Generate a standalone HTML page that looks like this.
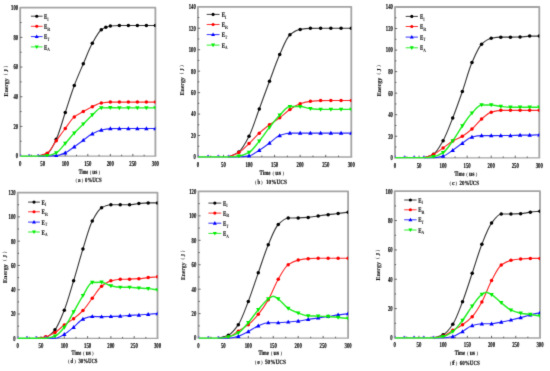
<!DOCTYPE html><html><head><meta charset="utf-8"><title>Energy curves</title><style>html,body{margin:0;padding:0;background:#fff;overflow:hidden;width:550px;height:371px}svg{display:block}</style></head><body><svg width="550" height="371" viewBox="0 0 550 371" font-family="'Liberation Serif','Noto Serif CJK SC',serif" font-weight="bold" fill="#111" text-rendering="geometricPrecision"><defs><filter id="bl" x="0" y="0" width="550" height="371" filterUnits="userSpaceOnUse" color-interpolation-filters="sRGB"><feConvolveMatrix order="3" kernelMatrix="0.0113 0.0838 0.0113 0.0838 0.6193 0.0838 0.0113 0.0838 0.0113" edgeMode="duplicate" preserveAlpha="true"/></filter></defs><g filter="url(#bl)"><rect width="100%" height="100%" fill="#fff"/><g><path d="M20.2 156.1V7.7H155.4V156.1" fill="none" stroke="#a4a4a4" stroke-width="1.8" stroke-linejoin="round"/>
<path d="M19.3 156.1H156.3" fill="none" stroke="#a4a4a4" stroke-width="1.3"/>
<path d="M31.47 156.1v-1.4M42.73 156.1v-2.2M54 156.1v-1.4M65.27 156.1v-2.2M76.53 156.1v-1.4M87.8 156.1v-2.2M99.07 156.1v-1.4M110.33 156.1v-2.2M121.6 156.1v-1.4M132.87 156.1v-2.2M144.13 156.1v-1.4M20.2 141.26h1.4M20.2 126.42h2.2M20.2 111.58h1.4M20.2 96.74h2.2M20.2 81.9h1.4M20.2 67.06h2.2M20.2 52.22h1.4M20.2 37.38h2.2M20.2 22.54h1.4" stroke="#444" stroke-width="0.8" fill="none"/>
<clipPath id="ca"><rect x="20.2" y="7.7" width="135.2" height="149.2"/></clipPath><g clip-path="url(#ca)">
<path d="M38.23 156.1C41.23 155.31 44.24 155.08 47.24 153.73C50.24 152.37 53.25 145.58 56.25 139.33C59.26 133.08 62.26 121.45 65.27 112.47C68.27 103.49 71.28 93.48 74.28 85.46C77.28 77.45 80.29 70.81 83.29 63.8C86.3 56.78 89.3 48.74 92.31 43.32C95.31 37.89 98.32 32.14 101.32 29.81C102.82 28.65 104.32 27.87 105.83 27.29C107.33 26.71 108.83 26.09 110.33 25.95C113.34 25.68 116.34 25.51 119.35 25.51C122.35 25.51 125.36 25.51 128.36 25.51C131.36 25.51 134.37 25.51 137.37 25.51C140.38 25.51 143.38 25.51 146.39 25.51C149.39 25.51 152.4 25.51 155.4 25.51" stroke="#3a3a3a" stroke-width="1.15" fill="none"/>
<circle cx="47.24" cy="153.73" r="1.75" fill="#000000"/>
<circle cx="56.25" cy="139.33" r="1.75" fill="#000000"/>
<circle cx="65.27" cy="112.47" r="1.75" fill="#000000"/>
<circle cx="74.28" cy="85.46" r="1.75" fill="#000000"/>
<circle cx="83.29" cy="63.8" r="1.75" fill="#000000"/>
<circle cx="92.31" cy="43.32" r="1.75" fill="#000000"/>
<circle cx="101.32" cy="29.81" r="1.75" fill="#000000"/>
<circle cx="105.83" cy="27.29" r="1.75" fill="#000000"/>
<circle cx="110.33" cy="25.95" r="1.75" fill="#000000"/>
<circle cx="119.35" cy="25.51" r="1.75" fill="#000000"/>
<circle cx="128.36" cy="25.51" r="1.75" fill="#000000"/>
<circle cx="137.37" cy="25.51" r="1.75" fill="#000000"/>
<circle cx="146.39" cy="25.51" r="1.75" fill="#000000"/>
<circle cx="155.4" cy="25.51" r="1.75" fill="#000000"/>
<path d="M38.23 156.1C41.23 155.11 44.24 154.73 47.24 153.13C50.24 151.54 53.25 144.92 56.25 140.81C59.26 136.71 62.26 132.48 65.27 128.5C68.27 124.52 71.28 119.36 74.28 116.92C77.28 114.49 80.29 113.28 83.29 111.58C86.3 109.88 89.3 108.09 92.31 106.68C95.31 105.28 98.32 103.45 101.32 102.97C104.32 102.49 107.33 102.08 110.33 102.08C113.34 102.08 116.34 102.08 119.35 102.08C122.35 102.08 125.36 102.08 128.36 102.08C131.36 102.08 134.37 102.08 137.37 102.08C140.38 102.08 143.38 102.08 146.39 102.08C149.39 102.08 152.4 102.08 155.4 102.08" stroke="#ff2a2a" stroke-width="1.15" fill="none"/>
<circle cx="47.24" cy="153.13" r="1.75" fill="#ff0000"/>
<circle cx="56.25" cy="140.81" r="1.75" fill="#ff0000"/>
<circle cx="65.27" cy="128.5" r="1.75" fill="#ff0000"/>
<circle cx="74.28" cy="116.92" r="1.75" fill="#ff0000"/>
<circle cx="83.29" cy="111.58" r="1.75" fill="#ff0000"/>
<circle cx="92.31" cy="106.68" r="1.75" fill="#ff0000"/>
<circle cx="101.32" cy="102.97" r="1.75" fill="#ff0000"/>
<circle cx="110.33" cy="102.08" r="1.75" fill="#ff0000"/>
<circle cx="119.35" cy="102.08" r="1.75" fill="#ff0000"/>
<circle cx="128.36" cy="102.08" r="1.75" fill="#ff0000"/>
<circle cx="137.37" cy="102.08" r="1.75" fill="#ff0000"/>
<circle cx="146.39" cy="102.08" r="1.75" fill="#ff0000"/>
<circle cx="155.4" cy="102.08" r="1.75" fill="#ff0000"/>
<path d="M38.23 156.1C41.23 156.1 44.24 156.1 47.24 156.1C50.24 156.1 53.25 155.91 56.25 155.65C59.26 155.4 62.26 154.12 65.27 152.84C68.27 151.55 71.28 148.85 74.28 146.75C77.28 144.65 80.29 142.37 83.29 140.22C86.3 138.07 89.3 135.44 92.31 133.84C95.31 132.24 98.32 130.64 101.32 129.98C104.32 129.32 107.33 128.74 110.33 128.65C113.34 128.56 116.34 128.5 119.35 128.5C122.35 128.5 125.36 128.5 128.36 128.5C131.36 128.5 134.37 128.5 137.37 128.5C140.38 128.5 143.38 128.5 146.39 128.5C149.39 128.5 152.4 128.5 155.4 128.5" stroke="#2a2aff" stroke-width="1.15" fill="none"/>
<ellipse cx="20.2" cy="154.9" rx="1.1" ry="1.0" fill="#7050f0"/>
<ellipse cx="29.21" cy="154.9" rx="1.1" ry="1.0" fill="#7050f0"/>
<ellipse cx="38.23" cy="154.9" rx="1.1" ry="1.0" fill="#7050f0"/>
<ellipse cx="47.24" cy="154.9" rx="1.1" ry="1.0" fill="#7050f0"/>
<path d="M56.25 153.34L58.45 157.3L54.05 157.3Z" fill="#0000ff"/>
<path d="M65.27 150.53L67.47 154.49L63.07 154.49Z" fill="#0000ff"/>
<path d="M74.28 144.44L76.48 148.4L72.08 148.4Z" fill="#0000ff"/>
<path d="M83.29 137.91L85.49 141.87L81.09 141.87Z" fill="#0000ff"/>
<path d="M92.31 131.53L94.51 135.49L90.11 135.49Z" fill="#0000ff"/>
<path d="M101.32 127.67L103.52 131.63L99.12 131.63Z" fill="#0000ff"/>
<path d="M110.33 126.34L112.53 130.3L108.13 130.3Z" fill="#0000ff"/>
<path d="M119.35 126.19L121.55 130.15L117.15 130.15Z" fill="#0000ff"/>
<path d="M128.36 126.19L130.56 130.15L126.16 130.15Z" fill="#0000ff"/>
<path d="M137.37 126.19L139.57 130.15L135.17 130.15Z" fill="#0000ff"/>
<path d="M146.39 126.19L148.59 130.15L144.19 130.15Z" fill="#0000ff"/>
<path d="M155.4 126.19L157.6 130.15L153.2 130.15Z" fill="#0000ff"/>
<path d="M20.2 156.1C23.2 156.1 26.21 156.1 29.21 156.1C32.22 156.1 35.22 156.1 38.23 156.1C41.23 156.1 44.24 155.91 47.24 155.65C50.24 155.4 53.25 154.28 56.25 152.84C59.26 151.39 62.26 146.77 65.27 143.49C68.27 140.21 71.28 136.32 74.28 133.1C77.28 129.87 80.29 127.06 83.29 124.05C86.3 121.03 89.3 117.65 92.31 114.99C95.31 112.34 98.32 107.97 101.32 107.87C104.32 107.77 107.33 107.72 110.33 107.72C113.34 107.72 116.34 107.87 119.35 107.87C122.35 107.87 125.36 107.87 128.36 107.87C131.36 107.87 134.37 107.87 137.37 107.87C140.38 107.87 143.38 107.87 146.39 107.87C149.39 107.87 152.4 107.87 155.4 107.87" stroke="#22ee22" stroke-width="1.45" fill="none"/>
<path d="M47.24 157.96L49.44 154L45.04 154Z" fill="#00ee00"/>
<path d="M56.25 155.15L58.45 151.19L54.05 151.19Z" fill="#00ee00"/>
<path d="M65.27 145.8L67.47 141.84L63.07 141.84Z" fill="#00ee00"/>
<path d="M74.28 135.41L76.48 131.45L72.08 131.45Z" fill="#00ee00"/>
<path d="M83.29 126.36L85.49 122.4L81.09 122.4Z" fill="#00ee00"/>
<path d="M92.31 117.3L94.51 113.34L90.11 113.34Z" fill="#00ee00"/>
<path d="M101.32 110.18L103.52 106.22L99.12 106.22Z" fill="#00ee00"/>
<path d="M110.33 110.03L112.53 106.07L108.13 106.07Z" fill="#00ee00"/>
<path d="M119.35 110.18L121.55 106.22L117.15 106.22Z" fill="#00ee00"/>
<path d="M128.36 110.18L130.56 106.22L126.16 106.22Z" fill="#00ee00"/>
<path d="M137.37 110.18L139.57 106.22L135.17 106.22Z" fill="#00ee00"/>
<path d="M146.39 110.18L148.59 106.22L144.19 106.22Z" fill="#00ee00"/>
<path d="M155.4 110.18L157.6 106.22L153.2 106.22Z" fill="#00ee00"/>
</g>
<path d="M30.9 16.2H42.6" stroke="#3a3a3a" stroke-width="0.95"/>
<circle cx="36.75" cy="16.2" r="1.57" fill="#000000"/>
<text x="43.9" y="18.8" font-size="7.0" text-anchor="start" textLength="3.3" lengthAdjust="spacingAndGlyphs" stroke="#1a1a1a" stroke-width="0.2">E</text>
<text x="47.2" y="20.5" font-size="5.0" text-anchor="start" textLength="1.4" lengthAdjust="spacingAndGlyphs">I</text>
<path d="M30.9 26.3H42.6" stroke="#ff2a2a" stroke-width="0.95"/>
<circle cx="36.75" cy="26.3" r="1.57" fill="#ff0000"/>
<text x="43.9" y="28.9" font-size="7.0" text-anchor="start" textLength="3.3" lengthAdjust="spacingAndGlyphs" stroke="#1a1a1a" stroke-width="0.2">E</text>
<text x="47.2" y="30.6" font-size="5.0" text-anchor="start" textLength="3" lengthAdjust="spacingAndGlyphs">R</text>
<path d="M30.9 36.6H42.6" stroke="#2a2aff" stroke-width="0.95"/>
<path d="M36.75 34.52L38.73 38.09L34.77 38.09Z" fill="#0000ff"/>
<text x="43.9" y="39.2" font-size="7.0" text-anchor="start" textLength="3.3" lengthAdjust="spacingAndGlyphs" stroke="#1a1a1a" stroke-width="0.2">E</text>
<text x="47.2" y="40.9" font-size="5.0" text-anchor="start" textLength="2.3" lengthAdjust="spacingAndGlyphs">T</text>
<path d="M30.9 46.9H42.6" stroke="#22ee22" stroke-width="0.95"/>
<path d="M36.75 48.98L38.73 45.41L34.77 45.41Z" fill="#00ee00"/>
<text x="43.9" y="49.5" font-size="7.0" text-anchor="start" textLength="3.3" lengthAdjust="spacingAndGlyphs" stroke="#1a1a1a" stroke-width="0.2">E</text>
<text x="47.2" y="51.2" font-size="5.0" text-anchor="start" textLength="2.6" lengthAdjust="spacingAndGlyphs">A</text>
<text x="18.1" y="158.45" font-size="7.5" text-anchor="end" textLength="2.35" lengthAdjust="spacingAndGlyphs" stroke="#1a1a1a" stroke-width="0.2">0</text>
<text x="18.1" y="128.77" font-size="7.5" text-anchor="end" textLength="4.7" lengthAdjust="spacingAndGlyphs" stroke="#1a1a1a" stroke-width="0.2">20</text>
<text x="18.1" y="99.09" font-size="7.5" text-anchor="end" textLength="4.7" lengthAdjust="spacingAndGlyphs" stroke="#1a1a1a" stroke-width="0.2">40</text>
<text x="18.1" y="69.41" font-size="7.5" text-anchor="end" textLength="4.7" lengthAdjust="spacingAndGlyphs" stroke="#1a1a1a" stroke-width="0.2">60</text>
<text x="18.1" y="39.73" font-size="7.5" text-anchor="end" textLength="4.7" lengthAdjust="spacingAndGlyphs" stroke="#1a1a1a" stroke-width="0.2">80</text>
<text x="18.1" y="10.05" font-size="7.5" text-anchor="end" textLength="7.05" lengthAdjust="spacingAndGlyphs" stroke="#1a1a1a" stroke-width="0.2">100</text>
<text x="20.2" y="165.8" font-size="7.4" text-anchor="middle" textLength="2.4" lengthAdjust="spacingAndGlyphs" stroke="#1a1a1a" stroke-width="0.2">0</text>
<text x="42.73" y="165.8" font-size="7.4" text-anchor="middle" textLength="4.8" lengthAdjust="spacingAndGlyphs" stroke="#1a1a1a" stroke-width="0.2">50</text>
<text x="65.27" y="165.8" font-size="7.4" text-anchor="middle" textLength="7.2" lengthAdjust="spacingAndGlyphs" stroke="#1a1a1a" stroke-width="0.2">100</text>
<text x="87.8" y="165.8" font-size="7.4" text-anchor="middle" textLength="7.2" lengthAdjust="spacingAndGlyphs" stroke="#1a1a1a" stroke-width="0.2">150</text>
<text x="110.33" y="165.8" font-size="7.4" text-anchor="middle" textLength="7.2" lengthAdjust="spacingAndGlyphs" stroke="#1a1a1a" stroke-width="0.2">200</text>
<text x="132.87" y="165.8" font-size="7.4" text-anchor="middle" textLength="7.2" lengthAdjust="spacingAndGlyphs" stroke="#1a1a1a" stroke-width="0.2">250</text>
<text x="155.4" y="165.8" font-size="7.4" text-anchor="middle" textLength="7.2" lengthAdjust="spacingAndGlyphs" stroke="#1a1a1a" stroke-width="0.2">300</text>
<text y="174.2" font-size="6.8" stroke="#222" stroke-width="0.2"><tspan x="78.8" textLength="9.34" lengthAdjust="spacingAndGlyphs">Time</tspan> <tspan x="89.72" font-weight="normal" stroke="none" font-size="5.6">(</tspan><tspan x="92.32" textLength="4.97" lengthAdjust="spacingAndGlyphs">us</tspan><tspan x="98.14" font-weight="normal" stroke="none" font-size="5.6">)</tspan></text>
<text y="182.3" font-size="6.4" stroke="#222" stroke-width="0.2"><tspan x="75.55" font-weight="normal" stroke="none" font-size="5.6">(</tspan><tspan x="78" textLength="2.6" lengthAdjust="spacingAndGlyphs">a</tspan><tspan x="81.45" font-weight="normal" stroke="none" font-size="5.6">)</tspan> <tspan x="85" textLength="16.7" lengthAdjust="spacingAndGlyphs">0%UCS</tspan></text>
<text transform="translate(8.3 96.5) rotate(-90)" font-size="6" stroke="#222" stroke-width="0.1"><tspan x="0" y="0" textLength="18.18" lengthAdjust="spacingAndGlyphs">Energy</tspan> <tspan x="21.34" y="-0.9" font-size="5" font-weight="normal" stroke="none">(</tspan><tspan x="24.29" y="0" textLength="3" lengthAdjust="spacingAndGlyphs">J</tspan><tspan x="28.92" y="-0.9" font-size="5" font-weight="normal" stroke="none">)</tspan></text></g>
<g><path d="M197.9 157V6.8H351.3V157" fill="none" stroke="#a4a4a4" stroke-width="1.8" stroke-linejoin="round"/>
<path d="M197 157H352.2" fill="none" stroke="#a4a4a4" stroke-width="1.3"/>
<path d="M210.68 157v-1.4M223.47 157v-2.2M236.25 157v-1.4M249.03 157v-2.2M261.82 157v-1.4M274.6 157v-2.2M287.38 157v-1.4M300.17 157v-2.2M312.95 157v-1.4M325.73 157v-2.2M338.52 157v-1.4M197.9 146.27h1.4M197.9 135.54h2.2M197.9 124.81h1.4M197.9 114.09h2.2M197.9 103.36h1.4M197.9 92.63h2.2M197.9 81.9h1.4M197.9 71.17h2.2M197.9 60.44h1.4M197.9 49.71h2.2M197.9 38.99h1.4M197.9 28.26h2.2M197.9 17.53h1.4" stroke="#444" stroke-width="0.8" fill="none"/>
<clipPath id="cb"><rect x="197.9" y="6.8" width="153.4" height="151"/></clipPath><g clip-path="url(#cb)">
<path d="M228.58 157C231.99 155.3 235.4 154.47 238.81 151.9C242.22 149.34 245.62 142.83 249.03 136.19C252.44 129.54 255.85 118.09 259.26 108.94C262.67 99.78 266.08 90.32 269.49 81.26C272.9 72.19 276.3 62.11 279.71 54.54C283.12 46.97 286.53 37.61 289.94 34.8C293.35 31.99 296.76 30.03 300.17 29.44C303.58 28.84 306.98 28.43 310.39 28.36C313.8 28.3 317.21 28.26 320.62 28.26C324.03 28.26 327.44 28.26 330.85 28.26C334.26 28.26 337.66 28.26 341.07 28.26C344.48 28.26 347.89 28.26 351.3 28.26" stroke="#3a3a3a" stroke-width="1.15" fill="none"/>
<circle cx="238.81" cy="151.9" r="1.75" fill="#000000"/>
<circle cx="249.03" cy="136.19" r="1.75" fill="#000000"/>
<circle cx="259.26" cy="108.94" r="1.75" fill="#000000"/>
<circle cx="269.49" cy="81.26" r="1.75" fill="#000000"/>
<circle cx="279.71" cy="54.54" r="1.75" fill="#000000"/>
<circle cx="289.94" cy="34.8" r="1.75" fill="#000000"/>
<circle cx="300.17" cy="29.44" r="1.75" fill="#000000"/>
<circle cx="310.39" cy="28.36" r="1.75" fill="#000000"/>
<circle cx="320.62" cy="28.26" r="1.75" fill="#000000"/>
<circle cx="330.85" cy="28.26" r="1.75" fill="#000000"/>
<circle cx="341.07" cy="28.26" r="1.75" fill="#000000"/>
<circle cx="351.3" cy="28.26" r="1.75" fill="#000000"/>
<path d="M228.58 157C231.99 155.5 235.4 154.49 238.81 152.49C242.22 150.5 245.62 146.79 249.03 143.59C252.44 140.39 255.85 136.27 259.26 133.18C262.67 130.09 266.08 127.37 269.49 124.81C272.9 122.26 276.3 120.26 279.71 117.73C283.12 115.21 286.53 111.84 289.94 109.58C293.35 107.32 296.76 104.94 300.17 103.79C303.58 102.63 306.98 101.7 310.39 101.32C313.8 100.93 317.21 100.63 320.62 100.57C324.03 100.51 327.44 100.46 330.85 100.46C334.26 100.46 337.66 100.46 341.07 100.46C344.48 100.46 347.89 100.46 351.3 100.46" stroke="#ff2a2a" stroke-width="1.15" fill="none"/>
<circle cx="238.81" cy="152.49" r="1.75" fill="#ff0000"/>
<circle cx="249.03" cy="143.59" r="1.75" fill="#ff0000"/>
<circle cx="259.26" cy="133.18" r="1.75" fill="#ff0000"/>
<circle cx="269.49" cy="124.81" r="1.75" fill="#ff0000"/>
<circle cx="279.71" cy="117.73" r="1.75" fill="#ff0000"/>
<circle cx="289.94" cy="109.58" r="1.75" fill="#ff0000"/>
<circle cx="300.17" cy="103.79" r="1.75" fill="#ff0000"/>
<circle cx="310.39" cy="101.32" r="1.75" fill="#ff0000"/>
<circle cx="320.62" cy="100.57" r="1.75" fill="#ff0000"/>
<circle cx="330.85" cy="100.46" r="1.75" fill="#ff0000"/>
<circle cx="341.07" cy="100.46" r="1.75" fill="#ff0000"/>
<circle cx="351.3" cy="100.46" r="1.75" fill="#ff0000"/>
<path d="M228.58 157C231.99 157 235.4 157 238.81 157C242.22 157 245.62 156.53 249.03 155.93C252.44 155.33 255.85 152.36 259.26 150.24C262.67 148.12 266.08 145.5 269.49 143.05C272.9 140.6 276.3 136.74 279.71 135.54C283.12 134.35 286.53 133.25 289.94 133.18C293.35 133.11 296.76 133.08 300.17 133.08C303.58 133.08 306.98 133.08 310.39 133.08C313.8 133.08 317.21 133.08 320.62 133.08C324.03 133.08 327.44 133.08 330.85 133.08C334.26 133.08 337.66 133.08 341.07 133.08C344.48 133.08 347.89 133.08 351.3 133.08" stroke="#2a2aff" stroke-width="1.15" fill="none"/>
<ellipse cx="197.9" cy="155.8" rx="1.1" ry="1.0" fill="#7050f0"/>
<ellipse cx="208.13" cy="155.8" rx="1.1" ry="1.0" fill="#7050f0"/>
<ellipse cx="218.35" cy="155.8" rx="1.1" ry="1.0" fill="#7050f0"/>
<ellipse cx="228.58" cy="155.8" rx="1.1" ry="1.0" fill="#7050f0"/>
<ellipse cx="238.81" cy="155.8" rx="1.1" ry="1.0" fill="#7050f0"/>
<path d="M249.03 153.62L251.23 157.58L246.83 157.58Z" fill="#0000ff"/>
<path d="M259.26 147.93L261.46 151.89L257.06 151.89Z" fill="#0000ff"/>
<path d="M269.49 140.74L271.69 144.7L267.29 144.7Z" fill="#0000ff"/>
<path d="M279.71 133.23L281.91 137.19L277.51 137.19Z" fill="#0000ff"/>
<path d="M289.94 130.87L292.14 134.83L287.74 134.83Z" fill="#0000ff"/>
<path d="M300.17 130.77L302.37 134.73L297.97 134.73Z" fill="#0000ff"/>
<path d="M310.39 130.77L312.59 134.73L308.19 134.73Z" fill="#0000ff"/>
<path d="M320.62 130.77L322.82 134.73L318.42 134.73Z" fill="#0000ff"/>
<path d="M330.85 130.77L333.05 134.73L328.65 134.73Z" fill="#0000ff"/>
<path d="M341.07 130.77L343.27 134.73L338.87 134.73Z" fill="#0000ff"/>
<path d="M351.3 130.77L353.5 134.73L349.1 134.73Z" fill="#0000ff"/>
<path d="M197.9 157C201.31 157 204.72 157 208.13 157C211.54 157 214.94 157 218.35 157C221.76 157 225.17 157 228.58 157C231.99 157 235.4 156.67 238.81 156.25C242.22 155.83 245.62 154.38 249.03 152.49C252.44 150.61 255.85 145.27 259.26 141.12C262.67 136.97 266.08 131.68 269.49 127.39C272.9 123.1 276.3 118.64 279.71 115.27C283.12 111.89 286.53 106.58 289.94 106.58C293.35 106.58 296.76 106.58 300.17 106.58C303.58 106.58 306.98 108.25 310.39 108.61C313.8 108.98 317.21 109.37 320.62 109.37C324.03 109.37 327.44 109.37 330.85 109.37C334.26 109.37 337.66 109.37 341.07 109.37C344.48 109.37 347.89 109.37 351.3 109.37" stroke="#22ee22" stroke-width="1.45" fill="none"/>
<path d="M238.81 158.56L241.01 154.6L236.61 154.6Z" fill="#00ee00"/>
<path d="M249.03 154.8L251.23 150.84L246.83 150.84Z" fill="#00ee00"/>
<path d="M259.26 143.43L261.46 139.47L257.06 139.47Z" fill="#00ee00"/>
<path d="M269.49 129.7L271.69 125.74L267.29 125.74Z" fill="#00ee00"/>
<path d="M279.71 117.58L281.91 113.62L277.51 113.62Z" fill="#00ee00"/>
<path d="M289.94 108.89L292.14 104.93L287.74 104.93Z" fill="#00ee00"/>
<path d="M300.17 108.89L302.37 104.93L297.97 104.93Z" fill="#00ee00"/>
<path d="M310.39 110.92L312.59 106.96L308.19 106.96Z" fill="#00ee00"/>
<path d="M320.62 111.68L322.82 107.72L318.42 107.72Z" fill="#00ee00"/>
<path d="M330.85 111.68L333.05 107.72L328.65 107.72Z" fill="#00ee00"/>
<path d="M341.07 111.68L343.27 107.72L338.87 107.72Z" fill="#00ee00"/>
<path d="M351.3 111.68L353.5 107.72L349.1 107.72Z" fill="#00ee00"/>
</g>
<path d="M206.7 14.4H219.5" stroke="#3a3a3a" stroke-width="0.95"/>
<circle cx="213.1" cy="14.4" r="1.57" fill="#000000"/>
<text x="221.8" y="17" font-size="7.0" text-anchor="start" textLength="3.3" lengthAdjust="spacingAndGlyphs" stroke="#1a1a1a" stroke-width="0.2">E</text>
<text x="225.1" y="18.7" font-size="5.0" text-anchor="start" textLength="1.4" lengthAdjust="spacingAndGlyphs">I</text>
<path d="M206.7 24.5H219.5" stroke="#ff2a2a" stroke-width="0.95"/>
<circle cx="213.1" cy="24.5" r="1.57" fill="#ff0000"/>
<text x="221.8" y="27.1" font-size="7.0" text-anchor="start" textLength="3.3" lengthAdjust="spacingAndGlyphs" stroke="#1a1a1a" stroke-width="0.2">E</text>
<text x="225.1" y="28.8" font-size="5.0" text-anchor="start" textLength="3" lengthAdjust="spacingAndGlyphs">R</text>
<path d="M206.7 34.6H219.5" stroke="#2a2aff" stroke-width="0.95"/>
<path d="M213.1 32.52L215.08 36.09L211.12 36.09Z" fill="#0000ff"/>
<text x="221.8" y="37.2" font-size="7.0" text-anchor="start" textLength="3.3" lengthAdjust="spacingAndGlyphs" stroke="#1a1a1a" stroke-width="0.2">E</text>
<text x="225.1" y="38.9" font-size="5.0" text-anchor="start" textLength="2.3" lengthAdjust="spacingAndGlyphs">T</text>
<path d="M206.7 45.1H219.5" stroke="#22ee22" stroke-width="0.95"/>
<path d="M213.1 47.18L215.08 43.62L211.12 43.62Z" fill="#00ee00"/>
<text x="221.8" y="47.7" font-size="7.0" text-anchor="start" textLength="3.3" lengthAdjust="spacingAndGlyphs" stroke="#1a1a1a" stroke-width="0.2">E</text>
<text x="225.1" y="49.4" font-size="5.0" text-anchor="start" textLength="2.6" lengthAdjust="spacingAndGlyphs">A</text>
<text x="195.8" y="159.35" font-size="7.5" text-anchor="end" textLength="2.35" lengthAdjust="spacingAndGlyphs" stroke="#1a1a1a" stroke-width="0.2">0</text>
<text x="195.8" y="137.89" font-size="7.5" text-anchor="end" textLength="4.7" lengthAdjust="spacingAndGlyphs" stroke="#1a1a1a" stroke-width="0.2">20</text>
<text x="195.8" y="116.44" font-size="7.5" text-anchor="end" textLength="4.7" lengthAdjust="spacingAndGlyphs" stroke="#1a1a1a" stroke-width="0.2">40</text>
<text x="195.8" y="94.98" font-size="7.5" text-anchor="end" textLength="4.7" lengthAdjust="spacingAndGlyphs" stroke="#1a1a1a" stroke-width="0.2">60</text>
<text x="195.8" y="73.52" font-size="7.5" text-anchor="end" textLength="4.7" lengthAdjust="spacingAndGlyphs" stroke="#1a1a1a" stroke-width="0.2">80</text>
<text x="195.8" y="52.06" font-size="7.5" text-anchor="end" textLength="7.05" lengthAdjust="spacingAndGlyphs" stroke="#1a1a1a" stroke-width="0.2">100</text>
<text x="195.8" y="30.61" font-size="7.5" text-anchor="end" textLength="7.05" lengthAdjust="spacingAndGlyphs" stroke="#1a1a1a" stroke-width="0.2">120</text>
<text x="195.8" y="9.15" font-size="7.5" text-anchor="end" textLength="7.05" lengthAdjust="spacingAndGlyphs" stroke="#1a1a1a" stroke-width="0.2">140</text>
<text x="197.9" y="166.5" font-size="7.4" text-anchor="middle" textLength="2.4" lengthAdjust="spacingAndGlyphs" stroke="#1a1a1a" stroke-width="0.2">0</text>
<text x="223.47" y="166.5" font-size="7.4" text-anchor="middle" textLength="4.8" lengthAdjust="spacingAndGlyphs" stroke="#1a1a1a" stroke-width="0.2">50</text>
<text x="249.03" y="166.5" font-size="7.4" text-anchor="middle" textLength="7.2" lengthAdjust="spacingAndGlyphs" stroke="#1a1a1a" stroke-width="0.2">100</text>
<text x="274.6" y="166.5" font-size="7.4" text-anchor="middle" textLength="7.2" lengthAdjust="spacingAndGlyphs" stroke="#1a1a1a" stroke-width="0.2">150</text>
<text x="300.17" y="166.5" font-size="7.4" text-anchor="middle" textLength="7.2" lengthAdjust="spacingAndGlyphs" stroke="#1a1a1a" stroke-width="0.2">200</text>
<text x="325.73" y="166.5" font-size="7.4" text-anchor="middle" textLength="7.2" lengthAdjust="spacingAndGlyphs" stroke="#1a1a1a" stroke-width="0.2">250</text>
<text x="351.3" y="166.5" font-size="7.4" text-anchor="middle" textLength="7.2" lengthAdjust="spacingAndGlyphs" stroke="#1a1a1a" stroke-width="0.2">300</text>
<text y="174.9" font-size="6.8" stroke="#222" stroke-width="0.2"><tspan x="259.6" textLength="10.82" lengthAdjust="spacingAndGlyphs">Time</tspan> <tspan x="272.41" font-weight="normal" stroke="none" font-size="5.6">(</tspan><tspan x="275.26" textLength="5.76" lengthAdjust="spacingAndGlyphs">us</tspan><tspan x="282.17" font-weight="normal" stroke="none" font-size="5.6">)</tspan></text>
<text y="183.7" font-size="6.4" stroke="#222" stroke-width="0.2"><tspan x="254.95" font-weight="normal" stroke="none" font-size="5.6">(</tspan><tspan x="257.4" textLength="2.6" lengthAdjust="spacingAndGlyphs">b</tspan><tspan x="260.85" font-weight="normal" stroke="none" font-size="5.6">)</tspan> <tspan x="266" textLength="20.9" lengthAdjust="spacingAndGlyphs">10%UCS</tspan></text>
<text transform="translate(183.8 95.3) rotate(-90)" font-size="6" stroke="#222" stroke-width="0.1"><tspan x="0" y="0" textLength="18.02" lengthAdjust="spacingAndGlyphs">Energy</tspan> <tspan x="21.13" y="-0.9" font-size="5" font-weight="normal" stroke="none">(</tspan><tspan x="24.06" y="0" textLength="2.98" lengthAdjust="spacingAndGlyphs">J</tspan><tspan x="28.64" y="-0.9" font-size="5" font-weight="normal" stroke="none">)</tspan></text></g>
<g><path d="M395 157.8V7H539.3V157.8" fill="none" stroke="#a4a4a4" stroke-width="1.8" stroke-linejoin="round"/>
<path d="M394.1 157.8H540.2" fill="none" stroke="#a4a4a4" stroke-width="1.3"/>
<path d="M407.02 157.8v-1.4M419.05 157.8v-2.2M431.07 157.8v-1.4M443.1 157.8v-2.2M455.12 157.8v-1.4M467.15 157.8v-2.2M479.17 157.8v-1.4M491.2 157.8v-2.2M503.22 157.8v-1.4M515.25 157.8v-2.2M527.27 157.8v-1.4M395 147.03h1.4M395 136.26h2.2M395 125.49h1.4M395 114.71h2.2M395 103.94h1.4M395 93.17h2.2M395 82.4h1.4M395 71.63h2.2M395 60.86h1.4M395 50.09h2.2M395 39.31h1.4M395 28.54h2.2M395 17.77h1.4" stroke="#444" stroke-width="0.8" fill="none"/>
<clipPath id="cc"><rect x="395" y="7" width="144.3" height="151.6"/></clipPath><g clip-path="url(#cc)">
<path d="M423.86 157.8C427.07 156.65 430.27 156.19 433.48 154.35C436.69 152.52 439.89 146.37 443.1 140.67C446.31 134.98 449.51 126.1 452.72 117.95C455.93 109.79 459.13 100.66 462.34 91.45C465.55 82.24 468.75 70.05 471.96 62.58C475.17 55.11 478.37 47.29 481.58 44.27C484.79 41.24 487.99 38.85 491.2 38.24C494.41 37.63 497.61 37.16 500.82 37.16C504.03 37.16 507.23 37.16 510.44 37.16C513.65 37.16 516.85 37.12 520.06 37.05C523.27 36.99 526.47 36.08 529.68 36.08C532.89 36.08 536.09 36.08 539.3 36.08" stroke="#3a3a3a" stroke-width="1.15" fill="none"/>
<circle cx="433.48" cy="154.35" r="1.75" fill="#000000"/>
<circle cx="443.1" cy="140.67" r="1.75" fill="#000000"/>
<circle cx="452.72" cy="117.95" r="1.75" fill="#000000"/>
<circle cx="462.34" cy="91.45" r="1.75" fill="#000000"/>
<circle cx="471.96" cy="62.58" r="1.75" fill="#000000"/>
<circle cx="481.58" cy="44.27" r="1.75" fill="#000000"/>
<circle cx="491.2" cy="38.24" r="1.75" fill="#000000"/>
<circle cx="500.82" cy="37.16" r="1.75" fill="#000000"/>
<circle cx="510.44" cy="37.16" r="1.75" fill="#000000"/>
<circle cx="520.06" cy="37.05" r="1.75" fill="#000000"/>
<circle cx="529.68" cy="36.08" r="1.75" fill="#000000"/>
<circle cx="539.3" cy="36.08" r="1.75" fill="#000000"/>
<path d="M423.86 157.8C427.07 156.69 430.27 155.94 433.48 154.46C436.69 152.98 439.89 150.12 443.1 147.89C446.31 145.66 449.51 142.99 452.72 141.1C455.93 139.22 459.13 138.19 462.34 136.26C465.55 134.32 468.75 131.84 471.96 129.04C475.17 126.24 478.37 121.75 481.58 119.02C484.79 116.3 487.99 113.09 491.2 112.13C494.41 111.16 497.61 110.3 500.82 110.3C504.03 110.3 507.23 110.3 510.44 110.3C513.65 110.3 516.85 110.3 520.06 110.3C523.27 110.3 526.47 110.3 529.68 110.3C532.89 110.3 536.09 110.3 539.3 110.3" stroke="#ff2a2a" stroke-width="1.15" fill="none"/>
<circle cx="433.48" cy="154.46" r="1.75" fill="#ff0000"/>
<circle cx="443.1" cy="147.89" r="1.75" fill="#ff0000"/>
<circle cx="452.72" cy="141.1" r="1.75" fill="#ff0000"/>
<circle cx="462.34" cy="136.26" r="1.75" fill="#ff0000"/>
<circle cx="471.96" cy="129.04" r="1.75" fill="#ff0000"/>
<circle cx="481.58" cy="119.02" r="1.75" fill="#ff0000"/>
<circle cx="491.2" cy="112.13" r="1.75" fill="#ff0000"/>
<circle cx="500.82" cy="110.3" r="1.75" fill="#ff0000"/>
<circle cx="510.44" cy="110.3" r="1.75" fill="#ff0000"/>
<circle cx="520.06" cy="110.3" r="1.75" fill="#ff0000"/>
<circle cx="529.68" cy="110.3" r="1.75" fill="#ff0000"/>
<circle cx="539.3" cy="110.3" r="1.75" fill="#ff0000"/>
<path d="M423.86 157.8C427.07 157.8 430.27 157.8 433.48 157.8C436.69 157.8 439.89 157.03 443.1 156.18C446.31 155.34 449.51 152.4 452.72 150.26C455.93 148.12 459.13 145.46 462.34 143.26C465.55 141.06 468.75 137.77 471.96 137.01C475.17 136.25 478.37 135.61 481.58 135.61C484.79 135.61 487.99 135.61 491.2 135.61C494.41 135.61 497.61 135.5 500.82 135.5C504.03 135.5 507.23 135.5 510.44 135.5C513.65 135.5 516.85 135.23 520.06 135.18C523.27 135.13 526.47 135.13 529.68 135.07C532.89 135.02 536.09 134.86 539.3 134.75" stroke="#2a2aff" stroke-width="1.15" fill="none"/>
<ellipse cx="395" cy="156.6" rx="1.1" ry="1.0" fill="#7050f0"/>
<ellipse cx="404.62" cy="156.6" rx="1.1" ry="1.0" fill="#7050f0"/>
<ellipse cx="414.24" cy="156.6" rx="1.1" ry="1.0" fill="#7050f0"/>
<ellipse cx="423.86" cy="156.6" rx="1.1" ry="1.0" fill="#7050f0"/>
<ellipse cx="433.48" cy="156.6" rx="1.1" ry="1.0" fill="#7050f0"/>
<path d="M443.1 153.87L445.3 157.83L440.9 157.83Z" fill="#0000ff"/>
<path d="M452.72 147.95L454.92 151.91L450.52 151.91Z" fill="#0000ff"/>
<path d="M462.34 140.95L464.54 144.91L460.14 144.91Z" fill="#0000ff"/>
<path d="M471.96 134.7L474.16 138.66L469.76 138.66Z" fill="#0000ff"/>
<path d="M481.58 133.3L483.78 137.26L479.38 137.26Z" fill="#0000ff"/>
<path d="M491.2 133.3L493.4 137.26L489 137.26Z" fill="#0000ff"/>
<path d="M500.82 133.19L503.02 137.15L498.62 137.15Z" fill="#0000ff"/>
<path d="M510.44 133.19L512.64 137.15L508.24 137.15Z" fill="#0000ff"/>
<path d="M520.06 132.87L522.26 136.83L517.86 136.83Z" fill="#0000ff"/>
<path d="M529.68 132.76L531.88 136.72L527.48 136.72Z" fill="#0000ff"/>
<path d="M539.3 132.44L541.5 136.4L537.1 136.4Z" fill="#0000ff"/>
<path d="M395 157.8C398.21 157.8 401.41 157.8 404.62 157.8C407.83 157.8 411.03 157.8 414.24 157.8C417.45 157.8 420.65 157.8 423.86 157.8C427.07 157.8 430.27 157.29 433.48 156.72C436.69 156.15 439.89 154.65 443.1 152.63C446.31 150.61 449.51 145.26 452.72 140.89C455.93 136.52 459.13 130.63 462.34 126.02C465.55 121.42 468.75 116.41 471.96 113.1C475.17 109.78 478.37 105.02 481.58 105.02C484.79 105.02 487.99 105.02 491.2 105.02C494.41 105.02 497.61 106.09 500.82 106.42C504.03 106.75 507.23 107.17 510.44 107.17C513.65 107.17 516.85 107.17 520.06 107.17C523.27 107.17 526.47 107.17 529.68 107.17C532.89 107.17 536.09 107.17 539.3 107.17" stroke="#22ee22" stroke-width="1.45" fill="none"/>
<path d="M433.48 159.03L435.68 155.07L431.28 155.07Z" fill="#00ee00"/>
<path d="M443.1 154.94L445.3 150.98L440.9 150.98Z" fill="#00ee00"/>
<path d="M452.72 143.2L454.92 139.24L450.52 139.24Z" fill="#00ee00"/>
<path d="M462.34 128.33L464.54 124.37L460.14 124.37Z" fill="#00ee00"/>
<path d="M471.96 115.41L474.16 111.45L469.76 111.45Z" fill="#00ee00"/>
<path d="M481.58 107.33L483.78 103.37L479.38 103.37Z" fill="#00ee00"/>
<path d="M491.2 107.33L493.4 103.37L489 103.37Z" fill="#00ee00"/>
<path d="M500.82 108.73L503.02 104.77L498.62 104.77Z" fill="#00ee00"/>
<path d="M510.44 109.48L512.64 105.52L508.24 105.52Z" fill="#00ee00"/>
<path d="M520.06 109.48L522.26 105.52L517.86 105.52Z" fill="#00ee00"/>
<path d="M529.68 109.48L531.88 105.52L527.48 105.52Z" fill="#00ee00"/>
<path d="M539.3 109.48L541.5 105.52L537.1 105.52Z" fill="#00ee00"/>
</g>
<path d="M405.7 16.4H417.9" stroke="#3a3a3a" stroke-width="0.95"/>
<circle cx="411.8" cy="16.4" r="1.57" fill="#000000"/>
<text x="420" y="19" font-size="7.0" text-anchor="start" textLength="3.3" lengthAdjust="spacingAndGlyphs" stroke="#1a1a1a" stroke-width="0.2">E</text>
<text x="423.3" y="20.7" font-size="5.0" text-anchor="start" textLength="1.4" lengthAdjust="spacingAndGlyphs">I</text>
<path d="M405.7 26.5H417.9" stroke="#ff2a2a" stroke-width="0.95"/>
<circle cx="411.8" cy="26.5" r="1.57" fill="#ff0000"/>
<text x="420" y="29.1" font-size="7.0" text-anchor="start" textLength="3.3" lengthAdjust="spacingAndGlyphs" stroke="#1a1a1a" stroke-width="0.2">E</text>
<text x="423.3" y="30.8" font-size="5.0" text-anchor="start" textLength="3" lengthAdjust="spacingAndGlyphs">R</text>
<path d="M405.7 37.1H417.9" stroke="#2a2aff" stroke-width="0.95"/>
<path d="M411.8 35.02L413.78 38.59L409.82 38.59Z" fill="#0000ff"/>
<text x="420" y="39.7" font-size="7.0" text-anchor="start" textLength="3.3" lengthAdjust="spacingAndGlyphs" stroke="#1a1a1a" stroke-width="0.2">E</text>
<text x="423.3" y="41.4" font-size="5.0" text-anchor="start" textLength="2.3" lengthAdjust="spacingAndGlyphs">T</text>
<path d="M405.7 47.8H417.9" stroke="#22ee22" stroke-width="0.95"/>
<path d="M411.8 49.88L413.78 46.31L409.82 46.31Z" fill="#00ee00"/>
<text x="420" y="50.4" font-size="7.0" text-anchor="start" textLength="3.3" lengthAdjust="spacingAndGlyphs" stroke="#1a1a1a" stroke-width="0.2">E</text>
<text x="423.3" y="52.1" font-size="5.0" text-anchor="start" textLength="2.6" lengthAdjust="spacingAndGlyphs">A</text>
<text x="392.9" y="160.15" font-size="7.5" text-anchor="end" textLength="2.35" lengthAdjust="spacingAndGlyphs" stroke="#1a1a1a" stroke-width="0.2">0</text>
<text x="392.9" y="138.61" font-size="7.5" text-anchor="end" textLength="4.7" lengthAdjust="spacingAndGlyphs" stroke="#1a1a1a" stroke-width="0.2">20</text>
<text x="392.9" y="117.06" font-size="7.5" text-anchor="end" textLength="4.7" lengthAdjust="spacingAndGlyphs" stroke="#1a1a1a" stroke-width="0.2">40</text>
<text x="392.9" y="95.52" font-size="7.5" text-anchor="end" textLength="4.7" lengthAdjust="spacingAndGlyphs" stroke="#1a1a1a" stroke-width="0.2">60</text>
<text x="392.9" y="73.98" font-size="7.5" text-anchor="end" textLength="4.7" lengthAdjust="spacingAndGlyphs" stroke="#1a1a1a" stroke-width="0.2">80</text>
<text x="392.9" y="52.44" font-size="7.5" text-anchor="end" textLength="7.05" lengthAdjust="spacingAndGlyphs" stroke="#1a1a1a" stroke-width="0.2">100</text>
<text x="392.9" y="30.89" font-size="7.5" text-anchor="end" textLength="7.05" lengthAdjust="spacingAndGlyphs" stroke="#1a1a1a" stroke-width="0.2">120</text>
<text x="392.9" y="9.35" font-size="7.5" text-anchor="end" textLength="7.05" lengthAdjust="spacingAndGlyphs" stroke="#1a1a1a" stroke-width="0.2">140</text>
<text x="395" y="167.7" font-size="7.4" text-anchor="middle" textLength="2.4" lengthAdjust="spacingAndGlyphs" stroke="#1a1a1a" stroke-width="0.2">0</text>
<text x="419.05" y="167.7" font-size="7.4" text-anchor="middle" textLength="4.8" lengthAdjust="spacingAndGlyphs" stroke="#1a1a1a" stroke-width="0.2">50</text>
<text x="443.1" y="167.7" font-size="7.4" text-anchor="middle" textLength="7.2" lengthAdjust="spacingAndGlyphs" stroke="#1a1a1a" stroke-width="0.2">100</text>
<text x="467.15" y="167.7" font-size="7.4" text-anchor="middle" textLength="7.2" lengthAdjust="spacingAndGlyphs" stroke="#1a1a1a" stroke-width="0.2">150</text>
<text x="491.2" y="167.7" font-size="7.4" text-anchor="middle" textLength="7.2" lengthAdjust="spacingAndGlyphs" stroke="#1a1a1a" stroke-width="0.2">200</text>
<text x="515.25" y="167.7" font-size="7.4" text-anchor="middle" textLength="7.2" lengthAdjust="spacingAndGlyphs" stroke="#1a1a1a" stroke-width="0.2">250</text>
<text x="539.3" y="167.7" font-size="7.4" text-anchor="middle" textLength="7.2" lengthAdjust="spacingAndGlyphs" stroke="#1a1a1a" stroke-width="0.2">300</text>
<text y="175.9" font-size="6.8" stroke="#222" stroke-width="0.2"><tspan x="454.4" textLength="10.1" lengthAdjust="spacingAndGlyphs">Time</tspan> <tspan x="466.29" font-weight="normal" stroke="none" font-size="5.6">(</tspan><tspan x="469.02" textLength="5.38" lengthAdjust="spacingAndGlyphs">us</tspan><tspan x="475.4" font-weight="normal" stroke="none" font-size="5.6">)</tspan></text>
<text y="185.3" font-size="6.4" stroke="#222" stroke-width="0.2"><tspan x="449.45" font-weight="normal" stroke="none" font-size="5.6">(</tspan><tspan x="451.9" textLength="2.6" lengthAdjust="spacingAndGlyphs">c</tspan><tspan x="455.35" font-weight="normal" stroke="none" font-size="5.6">)</tspan> <tspan x="459.5" textLength="19.6" lengthAdjust="spacingAndGlyphs">20%UCS</tspan></text>
<text transform="translate(380.9 96.3) rotate(-90)" font-size="6" stroke="#222" stroke-width="0.1"><tspan x="0" y="0" textLength="18.58" lengthAdjust="spacingAndGlyphs">Energy</tspan> <tspan x="21.82" y="-0.9" font-size="5" font-weight="normal" stroke="none">(</tspan><tspan x="24.82" y="0" textLength="3.07" lengthAdjust="spacingAndGlyphs">J</tspan><tspan x="29.56" y="-0.9" font-size="5" font-weight="normal" stroke="none">)</tspan></text></g>
<g><path d="M17.7 338.3V192.6H157.5V338.3" fill="none" stroke="#a4a4a4" stroke-width="1.8" stroke-linejoin="round"/>
<path d="M16.8 338.3H158.4" fill="none" stroke="#a4a4a4" stroke-width="1.3"/>
<path d="M29.35 338.3v-1.4M41 338.3v-2.2M52.65 338.3v-1.4M64.3 338.3v-2.2M75.95 338.3v-1.4M87.6 338.3v-2.2M99.25 338.3v-1.4M110.9 338.3v-2.2M122.55 338.3v-1.4M134.2 338.3v-2.2M145.85 338.3v-1.4M17.7 326.16h1.4M17.7 314.02h2.2M17.7 301.88h1.4M17.7 289.73h2.2M17.7 277.59h1.4M17.7 265.45h2.2M17.7 253.31h1.4M17.7 241.17h2.2M17.7 229.02h1.4M17.7 216.88h2.2M17.7 204.74h1.4" stroke="#444" stroke-width="0.8" fill="none"/>
<clipPath id="cd"><rect x="17.7" y="192.6" width="139.8" height="146.5"/></clipPath><g clip-path="url(#cd)">
<path d="M36.34 338.3C39.45 337.98 42.55 337.9 45.66 337.33C48.77 336.76 51.87 333.43 54.98 329.8C58.09 326.17 61.19 317.99 64.3 310.13C67.41 302.28 70.51 290.93 73.62 280.75C76.73 270.57 79.83 258.85 82.94 248.94C86.05 239.02 89.15 227.03 92.26 221.01C95.37 214.99 98.47 209.25 101.58 207.66C104.69 206.06 107.79 204.74 110.9 204.74C114.01 204.74 117.11 204.74 120.22 204.74C123.33 204.74 126.43 204.74 129.54 204.74C132.65 204.74 135.75 203.8 138.86 203.53C141.97 203.26 145.07 202.92 148.18 202.92C151.29 202.92 154.39 202.92 157.5 202.92" stroke="#3a3a3a" stroke-width="1.15" fill="none"/>
<circle cx="45.66" cy="337.33" r="1.75" fill="#000000"/>
<circle cx="54.98" cy="329.8" r="1.75" fill="#000000"/>
<circle cx="64.3" cy="310.13" r="1.75" fill="#000000"/>
<circle cx="73.62" cy="280.75" r="1.75" fill="#000000"/>
<circle cx="82.94" cy="248.94" r="1.75" fill="#000000"/>
<circle cx="92.26" cy="221.01" r="1.75" fill="#000000"/>
<circle cx="101.58" cy="207.66" r="1.75" fill="#000000"/>
<circle cx="110.9" cy="204.74" r="1.75" fill="#000000"/>
<circle cx="120.22" cy="204.74" r="1.75" fill="#000000"/>
<circle cx="129.54" cy="204.74" r="1.75" fill="#000000"/>
<circle cx="138.86" cy="203.53" r="1.75" fill="#000000"/>
<circle cx="148.18" cy="202.92" r="1.75" fill="#000000"/>
<circle cx="157.5" cy="202.92" r="1.75" fill="#000000"/>
<path d="M36.34 338.3C39.45 337.81 42.55 337.57 45.66 336.84C48.77 336.12 51.87 334.41 54.98 332.59C58.09 330.77 61.19 327.25 64.3 324.94C67.41 322.64 70.51 321 73.62 318.63C76.73 316.26 79.83 313.76 82.94 310.5C86.05 307.24 89.15 302.28 92.26 298.23C95.37 294.19 98.47 288.68 101.58 286.21C104.69 283.75 107.79 281.68 110.9 280.87C114.01 280.06 117.11 279.37 120.22 279.29C123.33 279.22 126.43 279.23 129.54 279.17C132.65 279.11 135.75 278.91 138.86 278.68C141.97 278.46 145.07 277.91 148.18 277.59C151.29 277.27 154.39 277.03 157.5 276.74" stroke="#ff2a2a" stroke-width="1.15" fill="none"/>
<circle cx="45.66" cy="336.84" r="1.75" fill="#ff0000"/>
<circle cx="54.98" cy="332.59" r="1.75" fill="#ff0000"/>
<circle cx="64.3" cy="324.94" r="1.75" fill="#ff0000"/>
<circle cx="73.62" cy="318.63" r="1.75" fill="#ff0000"/>
<circle cx="82.94" cy="310.5" r="1.75" fill="#ff0000"/>
<circle cx="92.26" cy="298.23" r="1.75" fill="#ff0000"/>
<circle cx="101.58" cy="286.21" r="1.75" fill="#ff0000"/>
<circle cx="110.9" cy="280.87" r="1.75" fill="#ff0000"/>
<circle cx="120.22" cy="279.29" r="1.75" fill="#ff0000"/>
<circle cx="129.54" cy="279.17" r="1.75" fill="#ff0000"/>
<circle cx="138.86" cy="278.68" r="1.75" fill="#ff0000"/>
<circle cx="148.18" cy="277.59" r="1.75" fill="#ff0000"/>
<circle cx="157.5" cy="276.74" r="1.75" fill="#ff0000"/>
<path d="M45.66 338.3C48.77 338.3 51.87 338.3 54.98 338.3C58.09 338.3 61.19 336 64.3 334.29C67.41 332.59 70.51 329.77 73.62 327.25C76.73 324.73 79.83 320.46 82.94 319.12C86.05 317.78 89.15 316.44 92.26 316.44C95.37 316.44 98.47 316.69 101.58 316.69C104.69 316.69 107.79 316.54 110.9 316.44C114.01 316.35 117.11 316.24 120.22 316.08C123.33 315.92 126.43 315.51 129.54 315.35C132.65 315.19 135.75 315.15 138.86 314.99C141.97 314.83 145.07 314.5 148.18 314.26C151.29 314.02 154.39 313.77 157.5 313.53" stroke="#2a2aff" stroke-width="1.15" fill="none"/>
<ellipse cx="17.7" cy="337.1" rx="1.1" ry="1.0" fill="#7050f0"/>
<ellipse cx="27.02" cy="337.1" rx="1.1" ry="1.0" fill="#7050f0"/>
<ellipse cx="36.34" cy="337.1" rx="1.1" ry="1.0" fill="#7050f0"/>
<ellipse cx="45.66" cy="337.1" rx="1.1" ry="1.0" fill="#7050f0"/>
<ellipse cx="54.98" cy="337.1" rx="1.1" ry="1.0" fill="#7050f0"/>
<path d="M64.3 331.98L66.5 335.94L62.1 335.94Z" fill="#0000ff"/>
<path d="M73.62 324.94L75.82 328.9L71.42 328.9Z" fill="#0000ff"/>
<path d="M82.94 316.81L85.14 320.77L80.74 320.77Z" fill="#0000ff"/>
<path d="M92.26 314.13L94.46 318.09L90.06 318.09Z" fill="#0000ff"/>
<path d="M101.58 314.38L103.78 318.34L99.38 318.34Z" fill="#0000ff"/>
<path d="M110.9 314.13L113.1 318.09L108.7 318.09Z" fill="#0000ff"/>
<path d="M120.22 313.77L122.42 317.73L118.02 317.73Z" fill="#0000ff"/>
<path d="M129.54 313.04L131.74 317L127.34 317Z" fill="#0000ff"/>
<path d="M138.86 312.68L141.06 316.64L136.66 316.64Z" fill="#0000ff"/>
<path d="M148.18 311.95L150.38 315.91L145.98 315.91Z" fill="#0000ff"/>
<path d="M157.5 311.22L159.7 315.18L155.3 315.18Z" fill="#0000ff"/>
<path d="M17.7 338.3C20.81 338.3 23.91 338.3 27.02 338.3C30.13 338.3 33.23 338.3 36.34 338.3C39.45 338.3 42.55 338.3 45.66 338.3C48.77 338.3 51.87 337.28 54.98 336.11C58.09 334.95 61.19 331.09 64.3 327.37C67.41 323.65 70.51 317.25 73.62 311.95C76.73 306.66 79.83 300.42 82.94 295.56C86.05 290.7 89.15 282.61 92.26 282.45C95.37 282.29 98.47 282.21 101.58 282.21C104.69 282.21 107.79 285.15 110.9 285.85C114.01 286.54 117.11 287.31 120.22 287.31C123.33 287.31 126.43 287.31 129.54 287.31C132.65 287.31 135.75 287.81 138.86 288.03C141.97 288.25 145.07 288.36 148.18 288.64C151.29 288.92 154.39 289.53 157.5 289.98" stroke="#22ee22" stroke-width="1.45" fill="none"/>
<path d="M54.98 338.42L57.18 334.46L52.78 334.46Z" fill="#00ee00"/>
<path d="M64.3 329.68L66.5 325.72L62.1 325.72Z" fill="#00ee00"/>
<path d="M73.62 314.26L75.82 310.3L71.42 310.3Z" fill="#00ee00"/>
<path d="M82.94 297.87L85.14 293.91L80.74 293.91Z" fill="#00ee00"/>
<path d="M92.26 284.76L94.46 280.8L90.06 280.8Z" fill="#00ee00"/>
<path d="M101.58 284.52L103.78 280.56L99.38 280.56Z" fill="#00ee00"/>
<path d="M110.9 288.16L113.1 284.2L108.7 284.2Z" fill="#00ee00"/>
<path d="M120.22 289.62L122.42 285.66L118.02 285.66Z" fill="#00ee00"/>
<path d="M129.54 289.62L131.74 285.66L127.34 285.66Z" fill="#00ee00"/>
<path d="M138.86 290.34L141.06 286.38L136.66 286.38Z" fill="#00ee00"/>
<path d="M148.18 290.95L150.38 286.99L145.98 286.99Z" fill="#00ee00"/>
<path d="M157.5 292.29L159.7 288.33L155.3 288.33Z" fill="#00ee00"/>
</g>
<path d="M28.1 202.1H39.9" stroke="#3a3a3a" stroke-width="0.95"/>
<circle cx="34" cy="202.1" r="1.57" fill="#000000"/>
<text x="41.6" y="204.7" font-size="7.0" text-anchor="start" textLength="3.3" lengthAdjust="spacingAndGlyphs" stroke="#1a1a1a" stroke-width="0.2">E</text>
<text x="44.9" y="206.4" font-size="5.0" text-anchor="start" textLength="1.4" lengthAdjust="spacingAndGlyphs">I</text>
<path d="M28.1 211.8H39.9" stroke="#ff2a2a" stroke-width="0.95"/>
<circle cx="34" cy="211.8" r="1.57" fill="#ff0000"/>
<text x="41.6" y="214.4" font-size="7.0" text-anchor="start" textLength="3.3" lengthAdjust="spacingAndGlyphs" stroke="#1a1a1a" stroke-width="0.2">E</text>
<text x="44.9" y="216.1" font-size="5.0" text-anchor="start" textLength="3" lengthAdjust="spacingAndGlyphs">R</text>
<path d="M28.1 222.1H39.9" stroke="#2a2aff" stroke-width="0.95"/>
<path d="M34 220.02L35.98 223.59L32.02 223.59Z" fill="#0000ff"/>
<text x="41.6" y="224.7" font-size="7.0" text-anchor="start" textLength="3.3" lengthAdjust="spacingAndGlyphs" stroke="#1a1a1a" stroke-width="0.2">E</text>
<text x="44.9" y="226.4" font-size="5.0" text-anchor="start" textLength="2.3" lengthAdjust="spacingAndGlyphs">T</text>
<path d="M28.1 232H39.9" stroke="#22ee22" stroke-width="0.95"/>
<path d="M34 234.08L35.98 230.51L32.02 230.51Z" fill="#00ee00"/>
<text x="41.6" y="234.6" font-size="7.0" text-anchor="start" textLength="3.3" lengthAdjust="spacingAndGlyphs" stroke="#1a1a1a" stroke-width="0.2">E</text>
<text x="44.9" y="236.3" font-size="5.0" text-anchor="start" textLength="2.6" lengthAdjust="spacingAndGlyphs">A</text>
<text x="15.6" y="340.65" font-size="7.5" text-anchor="end" textLength="2.35" lengthAdjust="spacingAndGlyphs" stroke="#1a1a1a" stroke-width="0.2">0</text>
<text x="15.6" y="316.37" font-size="7.5" text-anchor="end" textLength="4.7" lengthAdjust="spacingAndGlyphs" stroke="#1a1a1a" stroke-width="0.2">20</text>
<text x="15.6" y="292.08" font-size="7.5" text-anchor="end" textLength="4.7" lengthAdjust="spacingAndGlyphs" stroke="#1a1a1a" stroke-width="0.2">40</text>
<text x="15.6" y="267.8" font-size="7.5" text-anchor="end" textLength="4.7" lengthAdjust="spacingAndGlyphs" stroke="#1a1a1a" stroke-width="0.2">60</text>
<text x="15.6" y="243.52" font-size="7.5" text-anchor="end" textLength="4.7" lengthAdjust="spacingAndGlyphs" stroke="#1a1a1a" stroke-width="0.2">80</text>
<text x="15.6" y="219.23" font-size="7.5" text-anchor="end" textLength="7.05" lengthAdjust="spacingAndGlyphs" stroke="#1a1a1a" stroke-width="0.2">100</text>
<text x="15.6" y="194.95" font-size="7.5" text-anchor="end" textLength="7.05" lengthAdjust="spacingAndGlyphs" stroke="#1a1a1a" stroke-width="0.2">120</text>
<text x="17.7" y="348.2" font-size="7.4" text-anchor="middle" textLength="2.4" lengthAdjust="spacingAndGlyphs" stroke="#1a1a1a" stroke-width="0.2">0</text>
<text x="41" y="348.2" font-size="7.4" text-anchor="middle" textLength="4.8" lengthAdjust="spacingAndGlyphs" stroke="#1a1a1a" stroke-width="0.2">50</text>
<text x="64.3" y="348.2" font-size="7.4" text-anchor="middle" textLength="7.2" lengthAdjust="spacingAndGlyphs" stroke="#1a1a1a" stroke-width="0.2">100</text>
<text x="87.6" y="348.2" font-size="7.4" text-anchor="middle" textLength="7.2" lengthAdjust="spacingAndGlyphs" stroke="#1a1a1a" stroke-width="0.2">150</text>
<text x="110.9" y="348.2" font-size="7.4" text-anchor="middle" textLength="7.2" lengthAdjust="spacingAndGlyphs" stroke="#1a1a1a" stroke-width="0.2">200</text>
<text x="134.2" y="348.2" font-size="7.4" text-anchor="middle" textLength="7.2" lengthAdjust="spacingAndGlyphs" stroke="#1a1a1a" stroke-width="0.2">250</text>
<text x="157.5" y="348.2" font-size="7.4" text-anchor="middle" textLength="7.2" lengthAdjust="spacingAndGlyphs" stroke="#1a1a1a" stroke-width="0.2">300</text>
<text y="355.2" font-size="6.8" stroke="#222" stroke-width="0.2"><tspan x="71.6" textLength="9.74" lengthAdjust="spacingAndGlyphs">Time</tspan> <tspan x="83.04" font-weight="normal" stroke="none" font-size="5.6">(</tspan><tspan x="85.7" textLength="5.19" lengthAdjust="spacingAndGlyphs">us</tspan><tspan x="91.82" font-weight="normal" stroke="none" font-size="5.6">)</tspan></text>
<text y="363.3" font-size="6.4" stroke="#222" stroke-width="0.2"><tspan x="68.05" font-weight="normal" stroke="none" font-size="5.6">(</tspan><tspan x="70.5" textLength="2.6" lengthAdjust="spacingAndGlyphs">d</tspan><tspan x="73.95" font-weight="normal" stroke="none" font-size="5.6">)</tspan> <tspan x="78.4" textLength="19.1" lengthAdjust="spacingAndGlyphs">30%UCS</tspan></text>
<text transform="translate(6.8 282.9) rotate(-90)" font-size="6" stroke="#222" stroke-width="0.1"><tspan x="0" y="0" textLength="18.58" lengthAdjust="spacingAndGlyphs">Energy</tspan> <tspan x="21.82" y="-0.9" font-size="5" font-weight="normal" stroke="none">(</tspan><tspan x="24.82" y="0" textLength="3.07" lengthAdjust="spacingAndGlyphs">J</tspan><tspan x="29.56" y="-0.9" font-size="5" font-weight="normal" stroke="none">)</tspan></text></g>
<g><path d="M198.4 338.1V191.4H348.1V338.1" fill="none" stroke="#a4a4a4" stroke-width="1.8" stroke-linejoin="round"/>
<path d="M197.5 338.1H349" fill="none" stroke="#a4a4a4" stroke-width="1.3"/>
<path d="M210.88 338.1v-1.4M223.35 338.1v-2.2M235.83 338.1v-1.4M248.3 338.1v-2.2M260.78 338.1v-1.4M273.25 338.1v-2.2M285.73 338.1v-1.4M298.2 338.1v-2.2M310.68 338.1v-1.4M323.15 338.1v-2.2M335.62 338.1v-1.4M198.4 325.88h1.4M198.4 313.65h2.2M198.4 301.43h1.4M198.4 289.2h2.2M198.4 276.98h1.4M198.4 264.75h2.2M198.4 252.53h1.4M198.4 240.3h2.2M198.4 228.07h1.4M198.4 215.85h2.2M198.4 203.62h1.4" stroke="#444" stroke-width="0.8" fill="none"/>
<clipPath id="ce"><rect x="198.4" y="191.4" width="149.7" height="147.5"/></clipPath><g clip-path="url(#ce)">
<path d="M218.36 338.1C221.69 337.16 225.01 336.77 228.34 335.29C231.67 333.81 234.99 329.52 238.32 324.65C241.65 319.79 244.97 309.97 248.3 301.43C251.63 292.88 254.95 282.27 258.28 272.82C261.61 263.37 264.93 252.53 268.26 244.7C271.59 236.87 274.91 227.8 278.24 224.53C281.57 221.26 284.89 218.13 288.22 218.05C291.55 217.97 294.87 217.99 298.2 217.93C301.53 217.86 304.85 217.68 308.18 217.44C311.51 217.19 314.83 216.44 318.16 215.97C321.49 215.5 324.81 215.03 328.14 214.63C331.47 214.22 334.79 213.93 338.12 213.53C341.45 213.12 344.77 212.63 348.1 212.18" stroke="#3a3a3a" stroke-width="1.15" fill="none"/>
<circle cx="228.34" cy="335.29" r="1.75" fill="#000000"/>
<circle cx="238.32" cy="324.65" r="1.75" fill="#000000"/>
<circle cx="248.3" cy="301.43" r="1.75" fill="#000000"/>
<circle cx="258.28" cy="272.82" r="1.75" fill="#000000"/>
<circle cx="268.26" cy="244.7" r="1.75" fill="#000000"/>
<circle cx="278.24" cy="224.53" r="1.75" fill="#000000"/>
<circle cx="288.22" cy="218.05" r="1.75" fill="#000000"/>
<circle cx="298.2" cy="217.93" r="1.75" fill="#000000"/>
<circle cx="308.18" cy="217.44" r="1.75" fill="#000000"/>
<circle cx="318.16" cy="215.97" r="1.75" fill="#000000"/>
<circle cx="328.14" cy="214.63" r="1.75" fill="#000000"/>
<circle cx="338.12" cy="213.53" r="1.75" fill="#000000"/>
<circle cx="348.1" cy="212.18" r="1.75" fill="#000000"/>
<path d="M218.36 338.1C221.69 337.69 225.01 337.55 228.34 336.88C231.67 336.21 234.99 333.16 238.32 331.13C241.65 329.1 244.97 327.31 248.3 324.65C251.63 321.99 254.95 318.29 258.28 314.26C261.61 310.23 264.93 305.5 268.26 299.84C271.59 294.17 274.91 284.87 278.24 279.18C281.57 273.48 284.89 266.93 288.22 264.63C291.55 262.33 294.87 260.84 298.2 260.1C301.53 259.37 304.85 258.83 308.18 258.64C311.51 258.44 314.83 258.27 318.16 258.27C321.49 258.27 324.81 258.27 328.14 258.27C331.47 258.27 334.79 258.27 338.12 258.27C341.45 258.27 344.77 258.27 348.1 258.27" stroke="#ff2a2a" stroke-width="1.15" fill="none"/>
<circle cx="228.34" cy="336.88" r="1.75" fill="#ff0000"/>
<circle cx="238.32" cy="331.13" r="1.75" fill="#ff0000"/>
<circle cx="248.3" cy="324.65" r="1.75" fill="#ff0000"/>
<circle cx="258.28" cy="314.26" r="1.75" fill="#ff0000"/>
<circle cx="268.26" cy="299.84" r="1.75" fill="#ff0000"/>
<circle cx="278.24" cy="279.18" r="1.75" fill="#ff0000"/>
<circle cx="288.22" cy="264.63" r="1.75" fill="#ff0000"/>
<circle cx="298.2" cy="260.1" r="1.75" fill="#ff0000"/>
<circle cx="308.18" cy="258.64" r="1.75" fill="#ff0000"/>
<circle cx="318.16" cy="258.27" r="1.75" fill="#ff0000"/>
<circle cx="328.14" cy="258.27" r="1.75" fill="#ff0000"/>
<circle cx="338.12" cy="258.27" r="1.75" fill="#ff0000"/>
<circle cx="348.1" cy="258.27" r="1.75" fill="#ff0000"/>
<path d="M218.36 338.1C221.69 338.1 225.01 338.1 228.34 338.1C231.67 338.1 234.99 337.14 238.32 336.27C241.65 335.39 244.97 333.33 248.3 331.62C251.63 329.91 254.95 327.24 258.28 325.88C261.61 324.51 264.93 322.7 268.26 322.7C271.59 322.7 274.91 322.7 278.24 322.7C281.57 322.7 284.89 322.24 288.22 321.96C291.55 321.68 294.87 321.39 298.2 320.99C301.53 320.58 304.85 319.93 308.18 319.4C311.51 318.87 314.83 318.29 318.16 317.81C321.49 317.32 324.81 316.95 328.14 316.46C331.47 315.98 334.79 315.33 338.12 314.87C341.45 314.41 344.77 314.06 348.1 313.65" stroke="#2a2aff" stroke-width="1.15" fill="none"/>
<ellipse cx="198.4" cy="336.9" rx="1.1" ry="1.0" fill="#7050f0"/>
<ellipse cx="208.38" cy="336.9" rx="1.1" ry="1.0" fill="#7050f0"/>
<ellipse cx="218.36" cy="336.9" rx="1.1" ry="1.0" fill="#7050f0"/>
<ellipse cx="228.34" cy="336.9" rx="1.1" ry="1.0" fill="#7050f0"/>
<path d="M238.32 333.96L240.52 337.92L236.12 337.92Z" fill="#0000ff"/>
<path d="M248.3 329.31L250.5 333.27L246.1 333.27Z" fill="#0000ff"/>
<path d="M258.28 323.56L260.48 327.52L256.08 327.52Z" fill="#0000ff"/>
<path d="M268.26 320.39L270.46 324.35L266.06 324.35Z" fill="#0000ff"/>
<path d="M278.24 320.39L280.44 324.35L276.04 324.35Z" fill="#0000ff"/>
<path d="M288.22 319.65L290.42 323.61L286.02 323.61Z" fill="#0000ff"/>
<path d="M298.2 318.68L300.4 322.63L296 322.63Z" fill="#0000ff"/>
<path d="M308.18 317.09L310.38 321.05L305.98 321.05Z" fill="#0000ff"/>
<path d="M318.16 315.5L320.36 319.46L315.96 319.46Z" fill="#0000ff"/>
<path d="M328.14 314.15L330.34 318.11L325.94 318.11Z" fill="#0000ff"/>
<path d="M338.12 312.56L340.32 316.52L335.92 316.52Z" fill="#0000ff"/>
<path d="M348.1 311.34L350.3 315.3L345.9 315.3Z" fill="#0000ff"/>
<path d="M198.4 338.1C201.73 338.1 205.05 338.1 208.38 338.1C211.71 338.1 215.03 338.1 218.36 338.1C221.69 338.1 225.01 337.5 228.34 336.88C231.67 336.26 234.99 334.85 238.32 332.97C241.65 331.08 244.97 326.52 248.3 322.7C251.63 318.88 254.95 313.66 258.28 309.74C261.61 305.82 264.93 301.36 268.26 298.98C269.92 297.79 271.59 296.17 273.25 296.17C274.91 296.17 276.58 297.84 278.24 298.98C281.57 301.26 284.89 306.32 288.22 308.39C291.55 310.47 294.87 311.84 298.2 313.04C301.53 314.24 304.85 315.89 308.18 315.97C311.51 316.05 314.83 316.03 318.16 316.1C321.49 316.16 324.81 316.28 328.14 316.46C331.47 316.64 334.79 317.11 338.12 317.44C341.45 317.77 344.77 318.09 348.1 318.42" stroke="#22ee22" stroke-width="1.45" fill="none"/>
<path d="M228.34 339.19L230.54 335.23L226.14 335.23Z" fill="#00ee00"/>
<path d="M238.32 335.28L240.52 331.32L236.12 331.32Z" fill="#00ee00"/>
<path d="M248.3 325.01L250.5 321.05L246.1 321.05Z" fill="#00ee00"/>
<path d="M258.28 312.05L260.48 308.09L256.08 308.09Z" fill="#00ee00"/>
<path d="M268.26 301.29L270.46 297.33L266.06 297.33Z" fill="#00ee00"/>
<path d="M278.24 301.29L280.44 297.33L276.04 297.33Z" fill="#00ee00"/>
<path d="M288.22 310.7L290.42 306.74L286.02 306.74Z" fill="#00ee00"/>
<path d="M298.2 315.35L300.4 311.39L296 311.39Z" fill="#00ee00"/>
<path d="M308.18 318.28L310.38 314.32L305.98 314.32Z" fill="#00ee00"/>
<path d="M318.16 318.41L320.36 314.45L315.96 314.45Z" fill="#00ee00"/>
<path d="M328.14 318.77L330.34 314.81L325.94 314.81Z" fill="#00ee00"/>
<path d="M338.12 319.75L340.32 315.79L335.92 315.79Z" fill="#00ee00"/>
<path d="M348.1 320.73L350.3 316.77L345.9 316.77Z" fill="#00ee00"/>
</g>
<path d="M208.4 203.1H221.3" stroke="#3a3a3a" stroke-width="0.95"/>
<circle cx="214.85" cy="203.1" r="1.57" fill="#000000"/>
<text x="223" y="205.7" font-size="7.0" text-anchor="start" textLength="3.3" lengthAdjust="spacingAndGlyphs" stroke="#1a1a1a" stroke-width="0.2">E</text>
<text x="226.3" y="207.4" font-size="5.0" text-anchor="start" textLength="1.4" lengthAdjust="spacingAndGlyphs">I</text>
<path d="M208.4 213.1H221.3" stroke="#ff2a2a" stroke-width="0.95"/>
<circle cx="214.85" cy="213.1" r="1.57" fill="#ff0000"/>
<text x="223" y="215.7" font-size="7.0" text-anchor="start" textLength="3.3" lengthAdjust="spacingAndGlyphs" stroke="#1a1a1a" stroke-width="0.2">E</text>
<text x="226.3" y="217.4" font-size="5.0" text-anchor="start" textLength="3" lengthAdjust="spacingAndGlyphs">R</text>
<path d="M208.4 223.2H221.3" stroke="#2a2aff" stroke-width="0.95"/>
<path d="M214.85 221.12L216.83 224.69L212.87 224.69Z" fill="#0000ff"/>
<text x="223" y="225.8" font-size="7.0" text-anchor="start" textLength="3.3" lengthAdjust="spacingAndGlyphs" stroke="#1a1a1a" stroke-width="0.2">E</text>
<text x="226.3" y="227.5" font-size="5.0" text-anchor="start" textLength="2.3" lengthAdjust="spacingAndGlyphs">T</text>
<path d="M208.4 233.4H221.3" stroke="#22ee22" stroke-width="0.95"/>
<path d="M214.85 235.48L216.83 231.91L212.87 231.91Z" fill="#00ee00"/>
<text x="223" y="236" font-size="7.0" text-anchor="start" textLength="3.3" lengthAdjust="spacingAndGlyphs" stroke="#1a1a1a" stroke-width="0.2">E</text>
<text x="226.3" y="237.7" font-size="5.0" text-anchor="start" textLength="2.6" lengthAdjust="spacingAndGlyphs">A</text>
<text x="196.3" y="340.45" font-size="7.5" text-anchor="end" textLength="2.35" lengthAdjust="spacingAndGlyphs" stroke="#1a1a1a" stroke-width="0.2">0</text>
<text x="196.3" y="316" font-size="7.5" text-anchor="end" textLength="4.7" lengthAdjust="spacingAndGlyphs" stroke="#1a1a1a" stroke-width="0.2">20</text>
<text x="196.3" y="291.55" font-size="7.5" text-anchor="end" textLength="4.7" lengthAdjust="spacingAndGlyphs" stroke="#1a1a1a" stroke-width="0.2">40</text>
<text x="196.3" y="267.1" font-size="7.5" text-anchor="end" textLength="4.7" lengthAdjust="spacingAndGlyphs" stroke="#1a1a1a" stroke-width="0.2">60</text>
<text x="196.3" y="242.65" font-size="7.5" text-anchor="end" textLength="4.7" lengthAdjust="spacingAndGlyphs" stroke="#1a1a1a" stroke-width="0.2">80</text>
<text x="196.3" y="218.2" font-size="7.5" text-anchor="end" textLength="7.05" lengthAdjust="spacingAndGlyphs" stroke="#1a1a1a" stroke-width="0.2">100</text>
<text x="196.3" y="193.75" font-size="7.5" text-anchor="end" textLength="7.05" lengthAdjust="spacingAndGlyphs" stroke="#1a1a1a" stroke-width="0.2">120</text>
<text x="198.4" y="348" font-size="7.4" text-anchor="middle" textLength="2.4" lengthAdjust="spacingAndGlyphs" stroke="#1a1a1a" stroke-width="0.2">0</text>
<text x="223.35" y="348" font-size="7.4" text-anchor="middle" textLength="4.8" lengthAdjust="spacingAndGlyphs" stroke="#1a1a1a" stroke-width="0.2">50</text>
<text x="248.3" y="348" font-size="7.4" text-anchor="middle" textLength="7.2" lengthAdjust="spacingAndGlyphs" stroke="#1a1a1a" stroke-width="0.2">100</text>
<text x="273.25" y="348" font-size="7.4" text-anchor="middle" textLength="7.2" lengthAdjust="spacingAndGlyphs" stroke="#1a1a1a" stroke-width="0.2">150</text>
<text x="298.2" y="348" font-size="7.4" text-anchor="middle" textLength="7.2" lengthAdjust="spacingAndGlyphs" stroke="#1a1a1a" stroke-width="0.2">200</text>
<text x="323.15" y="348" font-size="7.4" text-anchor="middle" textLength="7.2" lengthAdjust="spacingAndGlyphs" stroke="#1a1a1a" stroke-width="0.2">250</text>
<text x="348.1" y="348" font-size="7.4" text-anchor="middle" textLength="7.2" lengthAdjust="spacingAndGlyphs" stroke="#1a1a1a" stroke-width="0.2">300</text>
<text y="355.4" font-size="6.8" stroke="#222" stroke-width="0.2"><tspan x="258.4" textLength="10.46" lengthAdjust="spacingAndGlyphs">Time</tspan> <tspan x="270.75" font-weight="normal" stroke="none" font-size="5.6">(</tspan><tspan x="273.54" textLength="5.57" lengthAdjust="spacingAndGlyphs">us</tspan><tspan x="280.19" font-weight="normal" stroke="none" font-size="5.6">)</tspan></text>
<text y="363.8" font-size="6.4" stroke="#222" stroke-width="0.2"><tspan x="254.85" font-weight="normal" stroke="none" font-size="5.6">(</tspan><tspan x="257.3" textLength="2.6" lengthAdjust="spacingAndGlyphs">e</tspan><tspan x="260.75" font-weight="normal" stroke="none" font-size="5.6">)</tspan> <tspan x="264.9" textLength="21.1" lengthAdjust="spacingAndGlyphs">50%UCS</tspan></text>
<text transform="translate(185 280.1) rotate(-90)" font-size="6" stroke="#222" stroke-width="0.1"><tspan x="0" y="0" textLength="17.57" lengthAdjust="spacingAndGlyphs">Energy</tspan> <tspan x="20.58" y="-0.9" font-size="5" font-weight="normal" stroke="none">(</tspan><tspan x="23.46" y="0" textLength="2.9" lengthAdjust="spacingAndGlyphs">J</tspan><tspan x="27.9" y="-0.9" font-size="5" font-weight="normal" stroke="none">)</tspan></text></g>
<g><path d="M394.7 338V191.2H540V338" fill="none" stroke="#a4a4a4" stroke-width="1.8" stroke-linejoin="round"/>
<path d="M393.8 338H540.9" fill="none" stroke="#a4a4a4" stroke-width="1.3"/>
<path d="M406.81 338v-1.4M418.92 338v-2.2M431.02 338v-1.4M443.13 338v-2.2M455.24 338v-1.4M467.35 338v-2.2M479.46 338v-1.4M491.57 338v-2.2M503.68 338v-1.4M515.78 338v-2.2M527.89 338v-1.4M394.7 323.32h1.4M394.7 308.64h2.2M394.7 293.96h1.4M394.7 279.28h2.2M394.7 264.6h1.4M394.7 249.92h2.2M394.7 235.24h1.4M394.7 220.56h2.2M394.7 205.88h1.4" stroke="#444" stroke-width="0.8" fill="none"/>
<clipPath id="cf"><rect x="394.7" y="191.2" width="145.3" height="147.6"/></clipPath><g clip-path="url(#cf)">
<path d="M433.45 338C436.68 336.92 439.9 336.42 443.13 334.77C446.36 333.12 449.59 328.99 452.82 324.2C456.05 319.41 459.28 310.11 462.51 301.74C465.74 293.37 468.96 282.85 472.19 273.26C475.42 263.67 478.65 252.35 481.88 244.19C485.11 236.04 488.34 227.3 491.57 223.06C494.8 218.81 498.02 213.95 501.25 213.95C504.48 213.95 507.71 213.95 510.94 213.95C514.17 213.95 517.4 213.82 520.63 213.66C523.86 213.5 527.08 212.6 530.31 212.19C533.54 211.79 536.77 211.51 540 211.16" stroke="#3a3a3a" stroke-width="1.15" fill="none"/>
<circle cx="443.13" cy="334.77" r="1.75" fill="#000000"/>
<circle cx="452.82" cy="324.2" r="1.75" fill="#000000"/>
<circle cx="462.51" cy="301.74" r="1.75" fill="#000000"/>
<circle cx="472.19" cy="273.26" r="1.75" fill="#000000"/>
<circle cx="481.88" cy="244.19" r="1.75" fill="#000000"/>
<circle cx="491.57" cy="223.06" r="1.75" fill="#000000"/>
<circle cx="501.25" cy="213.95" r="1.75" fill="#000000"/>
<circle cx="510.94" cy="213.95" r="1.75" fill="#000000"/>
<circle cx="520.63" cy="213.66" r="1.75" fill="#000000"/>
<circle cx="530.31" cy="212.19" r="1.75" fill="#000000"/>
<circle cx="540" cy="211.16" r="1.75" fill="#000000"/>
<path d="M433.45 338C436.68 337.31 439.9 336.95 443.13 335.94C446.36 334.94 449.59 332.23 452.82 330.37C456.05 328.51 459.28 326.99 462.51 324.79C465.74 322.59 468.96 320.19 472.19 316.71C475.42 313.24 478.65 307.84 481.88 302.03C485.11 296.23 488.34 286.61 491.57 280.6C494.8 274.59 498.02 267.45 501.25 265.04C504.48 262.63 507.71 261.03 510.94 260.34C514.17 259.66 517.4 259.29 520.63 259.02C523.86 258.75 527.08 258.43 530.31 258.43C533.54 258.43 536.77 258.43 540 258.43" stroke="#ff2a2a" stroke-width="1.15" fill="none"/>
<circle cx="443.13" cy="335.94" r="1.75" fill="#ff0000"/>
<circle cx="452.82" cy="330.37" r="1.75" fill="#ff0000"/>
<circle cx="462.51" cy="324.79" r="1.75" fill="#ff0000"/>
<circle cx="472.19" cy="316.71" r="1.75" fill="#ff0000"/>
<circle cx="481.88" cy="302.03" r="1.75" fill="#ff0000"/>
<circle cx="491.57" cy="280.6" r="1.75" fill="#ff0000"/>
<circle cx="501.25" cy="265.04" r="1.75" fill="#ff0000"/>
<circle cx="510.94" cy="260.34" r="1.75" fill="#ff0000"/>
<circle cx="520.63" cy="259.02" r="1.75" fill="#ff0000"/>
<circle cx="530.31" cy="258.43" r="1.75" fill="#ff0000"/>
<circle cx="540" cy="258.43" r="1.75" fill="#ff0000"/>
<path d="M433.45 338C436.68 338 439.9 338 443.13 338C446.36 338 449.59 337.29 452.82 336.53C456.05 335.78 459.28 333.36 462.51 331.54C465.74 329.72 468.96 326.43 472.19 325.52C475.42 324.61 478.65 323.76 481.88 323.76C485.11 323.76 488.34 323.76 491.57 323.76C494.8 323.76 498.02 322.63 501.25 322C504.48 321.37 507.71 320.67 510.94 319.94C514.17 319.21 517.4 318.42 520.63 317.59C523.86 316.77 527.08 315.75 530.31 314.95C533.54 314.15 536.77 313.48 540 312.75" stroke="#2a2aff" stroke-width="1.15" fill="none"/>
<ellipse cx="394.7" cy="336.8" rx="1.1" ry="1.0" fill="#7050f0"/>
<ellipse cx="404.39" cy="336.8" rx="1.1" ry="1.0" fill="#7050f0"/>
<ellipse cx="414.07" cy="336.8" rx="1.1" ry="1.0" fill="#7050f0"/>
<ellipse cx="423.76" cy="336.8" rx="1.1" ry="1.0" fill="#7050f0"/>
<ellipse cx="433.45" cy="336.8" rx="1.1" ry="1.0" fill="#7050f0"/>
<ellipse cx="443.13" cy="336.8" rx="1.1" ry="1.0" fill="#7050f0"/>
<path d="M452.82 334.22L455.02 338.18L450.62 338.18Z" fill="#0000ff"/>
<path d="M462.51 329.23L464.71 333.19L460.31 333.19Z" fill="#0000ff"/>
<path d="M472.19 323.21L474.39 327.17L469.99 327.17Z" fill="#0000ff"/>
<path d="M481.88 321.45L484.08 325.41L479.68 325.41Z" fill="#0000ff"/>
<path d="M491.57 321.45L493.77 325.41L489.37 325.41Z" fill="#0000ff"/>
<path d="M501.25 319.69L503.45 323.65L499.05 323.65Z" fill="#0000ff"/>
<path d="M510.94 317.63L513.14 321.59L508.74 321.59Z" fill="#0000ff"/>
<path d="M520.63 315.28L522.83 319.24L518.43 319.24Z" fill="#0000ff"/>
<path d="M530.31 312.64L532.51 316.6L528.11 316.6Z" fill="#0000ff"/>
<path d="M540 310.44L542.2 314.4L537.8 314.4Z" fill="#0000ff"/>
<path d="M394.7 338C397.93 338 401.16 338 404.39 338C407.62 338 410.84 338 414.07 338C417.3 338 420.53 338 423.76 338C426.99 338 430.22 338 433.45 338C436.68 338 439.9 337.29 443.13 336.53C446.36 335.78 449.59 333.84 452.82 331.54C456.05 329.24 459.28 324.55 462.51 320.38C465.74 316.21 468.96 310.44 472.19 306.14C475.42 301.85 478.65 296.59 481.88 294.4C483.33 293.42 484.79 292.2 486.24 292.2C488.01 292.2 489.79 293.66 491.57 294.69C494.8 296.58 498.02 300.2 501.25 302.77C504.48 305.33 507.71 308.66 510.94 310.11C514.17 311.56 517.4 312.57 520.63 313.19C523.86 313.81 527.08 314.05 530.31 314.51C533.54 314.98 536.77 315.49 540 315.98" stroke="#22ee22" stroke-width="1.45" fill="none"/>
<path d="M443.13 338.84L445.33 334.88L440.93 334.88Z" fill="#00ee00"/>
<path d="M452.82 333.85L455.02 329.89L450.62 329.89Z" fill="#00ee00"/>
<path d="M462.51 322.69L464.71 318.73L460.31 318.73Z" fill="#00ee00"/>
<path d="M472.19 308.45L474.39 304.49L469.99 304.49Z" fill="#00ee00"/>
<path d="M481.88 296.71L484.08 292.75L479.68 292.75Z" fill="#00ee00"/>
<path d="M491.57 297L493.77 293.04L489.37 293.04Z" fill="#00ee00"/>
<path d="M501.25 305.08L503.45 301.12L499.05 301.12Z" fill="#00ee00"/>
<path d="M510.94 312.42L513.14 308.46L508.74 308.46Z" fill="#00ee00"/>
<path d="M520.63 315.5L522.83 311.54L518.43 311.54Z" fill="#00ee00"/>
<path d="M530.31 316.82L532.51 312.86L528.11 312.86Z" fill="#00ee00"/>
<path d="M540 318.29L542.2 314.33L537.8 314.33Z" fill="#00ee00"/>
</g>
<path d="M404.2 200H416.6" stroke="#3a3a3a" stroke-width="0.95"/>
<circle cx="410.4" cy="200" r="1.57" fill="#000000"/>
<text x="418.3" y="202.6" font-size="7.0" text-anchor="start" textLength="3.3" lengthAdjust="spacingAndGlyphs" stroke="#1a1a1a" stroke-width="0.2">E</text>
<text x="421.6" y="204.3" font-size="5.0" text-anchor="start" textLength="1.4" lengthAdjust="spacingAndGlyphs">I</text>
<path d="M404.2 209.8H416.6" stroke="#ff2a2a" stroke-width="0.95"/>
<circle cx="410.4" cy="209.8" r="1.57" fill="#ff0000"/>
<text x="418.3" y="212.4" font-size="7.0" text-anchor="start" textLength="3.3" lengthAdjust="spacingAndGlyphs" stroke="#1a1a1a" stroke-width="0.2">E</text>
<text x="421.6" y="214.1" font-size="5.0" text-anchor="start" textLength="3" lengthAdjust="spacingAndGlyphs">R</text>
<path d="M404.2 219.8H416.6" stroke="#2a2aff" stroke-width="0.95"/>
<path d="M410.4 217.72L412.38 221.29L408.42 221.29Z" fill="#0000ff"/>
<text x="418.3" y="222.4" font-size="7.0" text-anchor="start" textLength="3.3" lengthAdjust="spacingAndGlyphs" stroke="#1a1a1a" stroke-width="0.2">E</text>
<text x="421.6" y="224.1" font-size="5.0" text-anchor="start" textLength="2.3" lengthAdjust="spacingAndGlyphs">T</text>
<path d="M404.2 230H416.6" stroke="#22ee22" stroke-width="0.95"/>
<path d="M410.4 232.08L412.38 228.51L408.42 228.51Z" fill="#00ee00"/>
<text x="418.3" y="232.6" font-size="7.0" text-anchor="start" textLength="3.3" lengthAdjust="spacingAndGlyphs" stroke="#1a1a1a" stroke-width="0.2">E</text>
<text x="421.6" y="234.3" font-size="5.0" text-anchor="start" textLength="2.6" lengthAdjust="spacingAndGlyphs">A</text>
<text x="392.6" y="340.35" font-size="7.5" text-anchor="end" textLength="2.35" lengthAdjust="spacingAndGlyphs" stroke="#1a1a1a" stroke-width="0.2">0</text>
<text x="392.6" y="310.99" font-size="7.5" text-anchor="end" textLength="4.7" lengthAdjust="spacingAndGlyphs" stroke="#1a1a1a" stroke-width="0.2">20</text>
<text x="392.6" y="281.63" font-size="7.5" text-anchor="end" textLength="4.7" lengthAdjust="spacingAndGlyphs" stroke="#1a1a1a" stroke-width="0.2">40</text>
<text x="392.6" y="252.27" font-size="7.5" text-anchor="end" textLength="4.7" lengthAdjust="spacingAndGlyphs" stroke="#1a1a1a" stroke-width="0.2">60</text>
<text x="392.6" y="222.91" font-size="7.5" text-anchor="end" textLength="4.7" lengthAdjust="spacingAndGlyphs" stroke="#1a1a1a" stroke-width="0.2">80</text>
<text x="392.6" y="193.55" font-size="7.5" text-anchor="end" textLength="7.05" lengthAdjust="spacingAndGlyphs" stroke="#1a1a1a" stroke-width="0.2">100</text>
<text x="394.7" y="347.3" font-size="7.4" text-anchor="middle" textLength="2.4" lengthAdjust="spacingAndGlyphs" stroke="#1a1a1a" stroke-width="0.2">0</text>
<text x="418.92" y="347.3" font-size="7.4" text-anchor="middle" textLength="4.8" lengthAdjust="spacingAndGlyphs" stroke="#1a1a1a" stroke-width="0.2">50</text>
<text x="443.13" y="347.3" font-size="7.4" text-anchor="middle" textLength="7.2" lengthAdjust="spacingAndGlyphs" stroke="#1a1a1a" stroke-width="0.2">100</text>
<text x="467.35" y="347.3" font-size="7.4" text-anchor="middle" textLength="7.2" lengthAdjust="spacingAndGlyphs" stroke="#1a1a1a" stroke-width="0.2">150</text>
<text x="491.57" y="347.3" font-size="7.4" text-anchor="middle" textLength="7.2" lengthAdjust="spacingAndGlyphs" stroke="#1a1a1a" stroke-width="0.2">200</text>
<text x="515.78" y="347.3" font-size="7.4" text-anchor="middle" textLength="7.2" lengthAdjust="spacingAndGlyphs" stroke="#1a1a1a" stroke-width="0.2">250</text>
<text x="540" y="347.3" font-size="7.4" text-anchor="middle" textLength="7.2" lengthAdjust="spacingAndGlyphs" stroke="#1a1a1a" stroke-width="0.2">300</text>
<text y="354.9" font-size="6.8" stroke="#222" stroke-width="0.2"><tspan x="454.7" textLength="10.33" lengthAdjust="spacingAndGlyphs">Time</tspan> <tspan x="466.88" font-weight="normal" stroke="none" font-size="5.6">(</tspan><tspan x="469.65" textLength="5.5" lengthAdjust="spacingAndGlyphs">us</tspan><tspan x="476.19" font-weight="normal" stroke="none" font-size="5.6">)</tspan></text>
<text y="364.8" font-size="6.4" stroke="#222" stroke-width="0.2"><tspan x="449.65" font-weight="normal" stroke="none" font-size="5.6">(</tspan><tspan x="452.1" textLength="2.6" lengthAdjust="spacingAndGlyphs">f</tspan><tspan x="455.55" font-weight="normal" stroke="none" font-size="5.6">)</tspan> <tspan x="459.8" textLength="20" lengthAdjust="spacingAndGlyphs">60%UCS</tspan></text>
<text transform="translate(380 280.4) rotate(-90)" font-size="6" stroke="#222" stroke-width="0.1"><tspan x="0" y="0" textLength="18.24" lengthAdjust="spacingAndGlyphs">Energy</tspan> <tspan x="21.41" y="-0.9" font-size="5" font-weight="normal" stroke="none">(</tspan><tspan x="24.36" y="0" textLength="3.01" lengthAdjust="spacingAndGlyphs">J</tspan><tspan x="29.01" y="-0.9" font-size="5" font-weight="normal" stroke="none">)</tspan></text></g></g></svg></body></html>
